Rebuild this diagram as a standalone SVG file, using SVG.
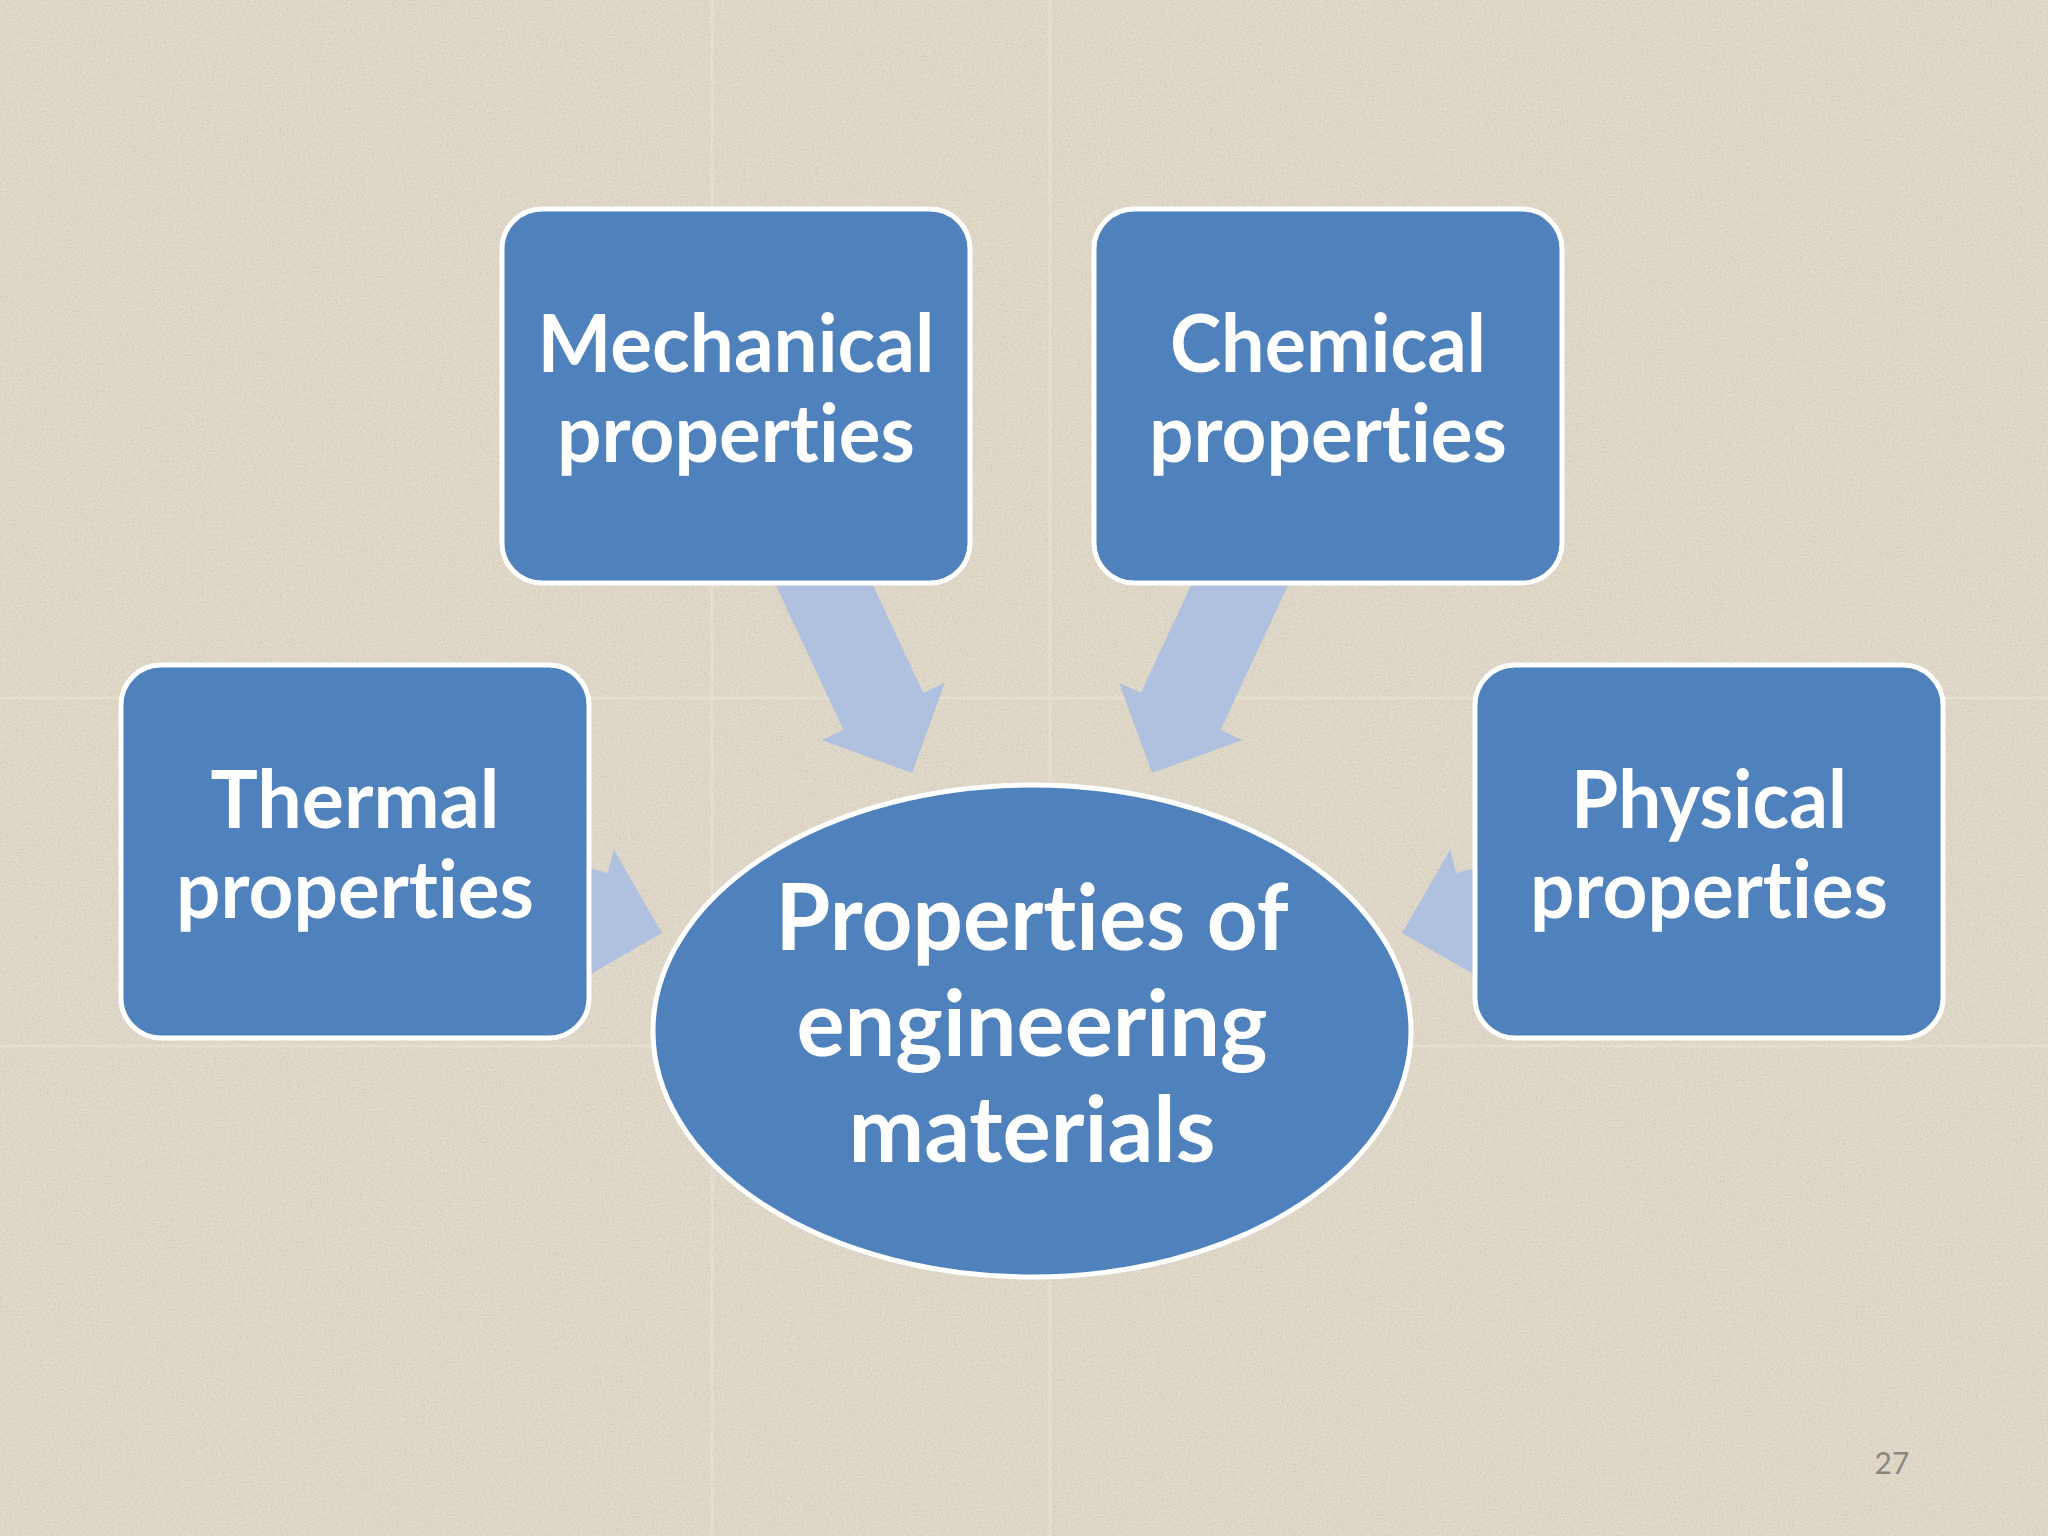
<svg xmlns="http://www.w3.org/2000/svg" width="2048" height="1536" viewBox="0 0 2048 1536">
  <defs>
    <filter id="paper" x="0" y="0" width="100%" height="100%">
      <feTurbulence type="fractalNoise" baseFrequency="0.55" numOctaves="2" seed="7" result="n"/>
      <feColorMatrix in="n" type="matrix" values="0 0 0 0 0.45  0 0 0 0 0.40  0 0 0 0 0.32  0 0 0 -2.2 1.25"/>
    </filter>
    <polygon id="arrow" points="-260,-44 -68,-44 -68,-68 0,0 -68,68 -68,44 -260,44"/>
  </defs>
  <style>
    .bg { fill: #E1DACB; }
    .seam { stroke: #EEE9DE; stroke-width: 3; opacity: 0.45; }
    .arr { fill: #AFC1DE; }
    .box { fill: #4F81BD; stroke: #FFFFFF; stroke-width: 5; }
    .lbl { font-family: Lato, "Open Sans", "Liberation Sans", sans-serif; font-weight: 700; fill: #FFFFFF; text-anchor: middle; font-variant-ligatures: none; font-feature-settings: "liga" 0, "clig" 0; }
    .box-t { font-size: 81px; }
    .ell-t { font-size: 91px; }
    .num { font-family: Lato, "Liberation Sans", sans-serif; font-size: 30px; fill: #8A8780; text-anchor: middle; }
  </style>

  <rect class="bg" x="0" y="0" width="2048" height="1536"/>
  <rect x="0" y="0" width="2048" height="1536" filter="url(#paper)" opacity="0.35"/>
  <g id="texture-seams">
    <line class="seam" x1="0" y1="698" x2="2048" y2="698"/>
    <line class="seam" x1="0" y1="1046" x2="2048" y2="1046"/>
    <line class="seam" x1="1050" y1="0" x2="1050" y2="1536"/>
    <line class="seam" x1="712" y1="0" x2="712" y2="1536"/>
  </g>

  <g id="connectors">
    <use href="#arrow" class="arr" transform="translate(912,773) rotate(65)"/>
    <use href="#arrow" class="arr" transform="translate(1152,773) rotate(115)"/>
    <use href="#arrow" class="arr" transform="translate(662,933) rotate(15)"/>
    <use href="#arrow" class="arr" transform="translate(1402,933) rotate(165)"/>
  </g>

  <g id="node-mechanical">
    <rect class="box" x="502" y="209" width="468" height="374" rx="40"/>
    <text class="lbl box-t" x="736" y="372" textLength="397" lengthAdjust="spacingAndGlyphs">Mechanical</text>
    <text class="lbl box-t" x="736" y="462" textLength="358" lengthAdjust="spacingAndGlyphs">properties</text>
  </g>
  <g id="node-chemical">
    <rect class="box" x="1094" y="209" width="468" height="374" rx="40"/>
    <text class="lbl box-t" x="1328" y="372" textLength="316" lengthAdjust="spacingAndGlyphs">Chemical</text>
    <text class="lbl box-t" x="1328" y="462" textLength="358" lengthAdjust="spacingAndGlyphs">properties</text>
  </g>
  <g id="node-thermal">
    <rect class="box" x="121" y="665" width="468" height="373" rx="40"/>
    <text class="lbl box-t" x="355" y="828" textLength="289" lengthAdjust="spacingAndGlyphs">Thermal</text>
    <text class="lbl box-t" x="355" y="918" textLength="358" lengthAdjust="spacingAndGlyphs">properties</text>
  </g>
  <g id="node-physical">
    <rect class="box" x="1475" y="665" width="468" height="373" rx="40"/>
    <text class="lbl box-t" x="1709" y="828" textLength="276" lengthAdjust="spacingAndGlyphs">Physical</text>
    <text class="lbl box-t" x="1709" y="918" textLength="358" lengthAdjust="spacingAndGlyphs">properties</text>
  </g>
  <g id="node-center">
    <ellipse class="box" cx="1032" cy="1031" rx="379" ry="246"/>
    <text class="lbl ell-t" x="1032" y="950" textLength="513" lengthAdjust="spacingAndGlyphs">Properties of</text>
    <text class="lbl ell-t" x="1032" y="1056" textLength="471" lengthAdjust="spacingAndGlyphs">engineering</text>
    <text class="lbl ell-t" x="1032" y="1162" textLength="367" lengthAdjust="spacingAndGlyphs">materials</text>
  </g>

  <text class="num" x="1892" y="1474">27</text>
</svg>
